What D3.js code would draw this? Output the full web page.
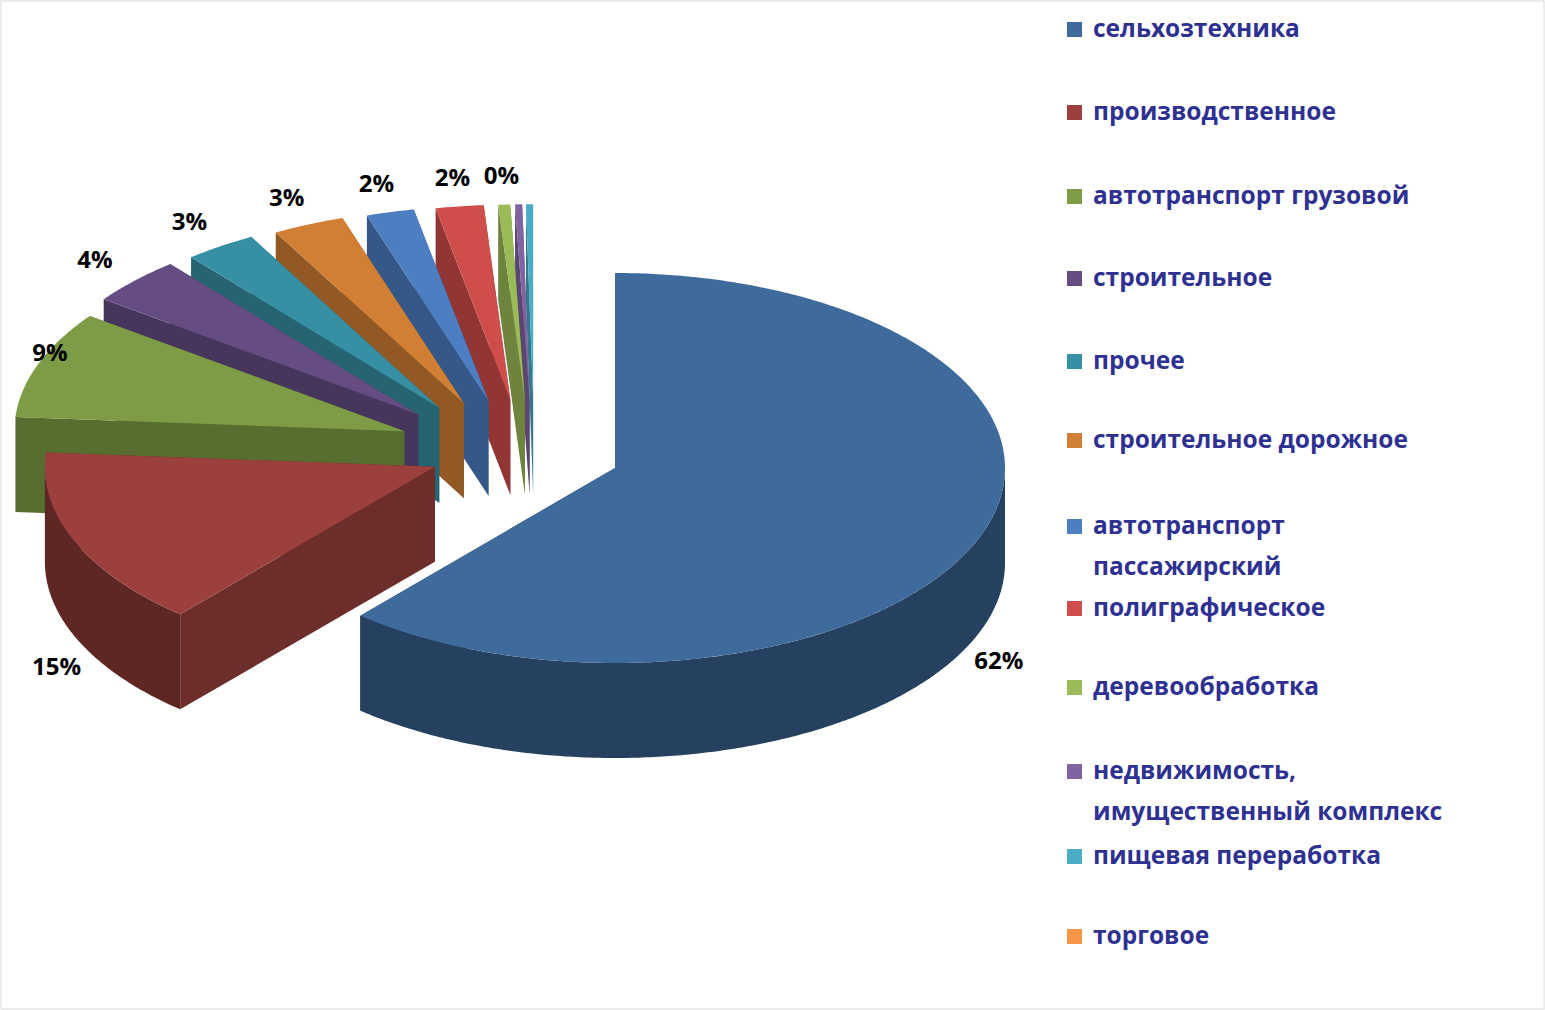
<!DOCTYPE html>
<html><head><meta charset="utf-8">
<script src="https://cdn.jsdelivr.net/npm/d3@7"></script>
<style>body{margin:0;background:#fff}svg{display:block}</style>
</head><body>
<script>
const categories = ["сельхозтехника","производственное","автотранспорт грузовой","строительное","прочее","строительное дорожное","автотранспорт пассажирский","полиграфическое","деревообработка","недвижимость, имущественный комплекс","пищевая переработка","торговое"];
const values = [62,15,9,4,3,3,2,2,0.5,0.3,0.3,0];
const labels = ["62%","15%","9%","4%","3%","3%","2%","2%","0%","","",""];
const colors = ["#3F6A9C","#9B403C","#7E9B45","#654D84","#378FA3","#D07F35","#4D7EC2","#CF4D4B","#9BBB59","#8064A2","#4BACC6","#F79646"];
const legendLines = [["сельхозтехника"],["производственное"],["автотранспорт грузовой"],["строительное"],["прочее"],["строительное дорожное"],["автотранспорт","пассажирский"],["полиграфическое"],["деревообработка"],["недвижимость,","имущественный комплекс"],["пищевая переработка"],["торговое"]];
const legendY = [30,113,197,279,362,441,527,609,688,772,857,937];

const W = 1545, H = 1010;
const cx = 615, cy = 468, rx = 390, ry = 195, depth = 95, explode = 0.5;
const svg = d3.select("body").append("svg").attr("width", W).attr("height", H);
svg.append("rect").attr("x",1).attr("y",1).attr("width",W-2).attr("height",H-2).attr("fill","#fff").attr("stroke","#d9d9d9");

const arcs = d3.pie().sort(null).value(d => d)(values);
function pt(a, k, ox, oy) { return [cx + ox + k * rx * Math.sin(a), cy + oy - k * ry * Math.cos(a)]; }
const line = d3.line();

const slices = arcs.map((a, i) => {
  const mid = (a.startAngle + a.endAngle) / 2;
  if (i === 0) return {i, a, mid, ox: 0, oy: 0};
  const ox = explode * rx * Math.sin(mid) - 80 * Math.max(0, Math.cos(mid));
  const oy = -0.25 * ry * Math.cos(mid) - 20;
  return {i, a, mid, ox, oy};
});

function drawSlice(s) {
  const {a, ox, oy, i} = s;
  if (a.endAngle - a.startAngle <= 0) return;
  const g = svg.append("g");
  const col = d3.color(colors[i]);
  const side = col.darker(1.4), cut = col.darker(1.0);
  const c = [cx + ox, cy + oy];
  const steps = d3.range(a.startAngle, a.endAngle, 0.01).concat([a.endAngle]);
  [a.startAngle, a.endAngle].forEach(ang => {
    const p = pt(ang, 1, ox, oy);
    g.append("path").attr("d", line([c, p, [p[0], p[1] + depth], [c[0], c[1] + depth]]) + "Z").attr("fill", cut);
  });
  const lo = Math.max(a.startAngle, Math.PI / 2), hi = Math.min(a.endAngle, 3 * Math.PI / 2);
  if (hi > lo) {
    const ws = d3.range(lo, hi, 0.01).concat([hi]);
    const top = ws.map(t => pt(t, 1, ox, oy));
    const bot = top.map(p => [p[0], p[1] + depth]).reverse();
    g.append("path").attr("d", line(top.concat(bot)) + "Z").attr("fill", side);
  }
  g.append("path").attr("d", line([c].concat(steps.map(t => pt(t, 1, ox, oy)))) + "Z").attr("fill", colors[i]);
}

const order = slices.slice(2).reverse().concat([slices[1], slices[0]]);
order.forEach(drawSlice);

function labelPos(s) {
  const front = Math.cos(s.mid) < 0;
  const p = pt(s.mid, front ? 1.05 : 1.14, s.ox, s.oy);
  return [Math.max(50, p[0]), p[1] + (front ? depth * 1.3 : 0)];
}
svg.append("g").selectAll("text").data(slices.filter(s => labels[s.i])).join("text")
  .attr("x", s => labelPos(s)[0])
  .attr("y", s => labelPos(s)[1])
  .attr("text-anchor", "middle").attr("dominant-baseline", "middle")
  .attr("font-family", "'Open Sans', sans-serif").attr("font-weight", "bold").attr("font-size", 24)
  .attr("fill", "#000").text(s => labels[s.i]);

const lg = svg.append("g");
categories.forEach((c, i) => {
  lg.append("rect").attr("x", 1067).attr("y", legendY[i] - 8).attr("width", 15).attr("height", 15).attr("fill", colors[i]);
  legendLines[i].forEach((t, j) => {
    lg.append("text").attr("x", 1093).attr("y", legendY[i] + j * 41).attr("dominant-baseline", "middle")
      .attr("font-family", "'Open Sans', sans-serif").attr("font-weight", "bold").attr("font-size", 24.5)
      .attr("fill", "#2E3192").text(t);
  });
});
</script>
</body></html>
